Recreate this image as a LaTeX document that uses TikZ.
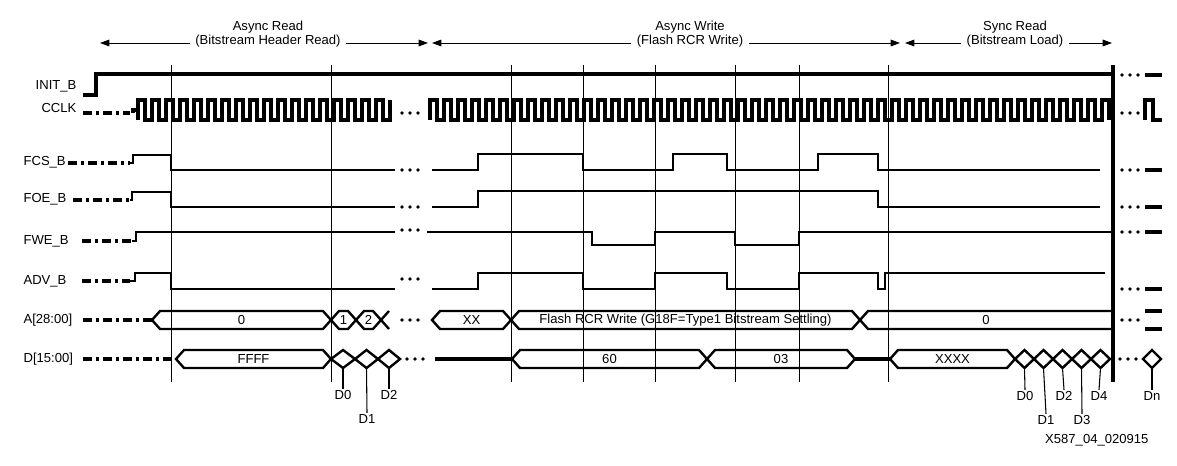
\documentclass[tikz,border=0pt]{standalone}
\usepackage{fontspec}
\setmainfont{Liberation Sans}
\usetikzlibrary{arrows.meta}
\newcommand\hexbus[5]{% name x1 x2 y text
  \draw[bus] (#2,#4) -- ({#2+8},{#4-9}) -- ({#3-8},{#4-9}) -- (#3,#4) -- ({#3-8},{#4+9}) -- ({#2+8},{#4+9}) -- cycle;
  \node[lab] (#1) at ({(#2+#3)/2},#4) {#5};}
\newcommand\diam[4]{% name x1 x2 y
  \draw[bus] (#2,#4) -- ({(#2+#3)/2},{#4-9}) -- (#3,#4) -- ({(#2+#3)/2},{#4+9}) -- cycle;
  \coordinate (#1) at ({(#2+#3)/2},{#4+9});}
\newcommand\tdots[2]{\foreach \k in {0,1,2}{\fill ({#1+8*\k},#2) circle (1.9);}}
\begin{document}
\begin{tikzpicture}[x=0.75pt,y=-0.75pt,
  lab/.style={font=\fontsize{9.8}{11}\selectfont,inner sep=1pt},
  sig/.style={line width=2.7pt,line join=miter},
  sigthin/.style={line width=2.1pt,line join=miter},
  bus/.style={line width=1.8pt,line join=miter},
  lead/.style={line width=2.7pt,dash pattern=on 7pt off 3pt on 2pt off 3pt},
  grid/.style={line width=0.6pt},
  hdr/.style={line width=0.7pt,{Triangle[length=7pt,width=5pt]}-{Triangle[length=7pt,width=5pt]}}]
\useasboundingbox (0,0) rectangle (1177,466);
% header
\draw[hdr] (100,43) -- (428,43);
\draw[hdr] (432,43) -- (900,43);
\draw[hdr] (905,43) -- (1112,43);
\node[lab,fill=white,align=center,inner xsep=4pt] (h1) at (268,34) {Async Read\\(Bitstream Header Read)};
\node[lab,fill=white,align=center,inner xsep=4pt] (h2) at (690,34) {Async Write\\(Flash RCR Write)};
\node[lab,fill=white,align=center,inner xsep=4pt] (h3) at (1015,34) {Sync Read\\(Bitstream Load)};
% grid lines
\foreach \x in {171,331,511,583,655,735,799,888}{\draw[grid] (\x,65) -- (\x,382);}
\draw[line width=3pt] (1113,65) -- (1113,382);
% labels
\node[lab,anchor=east] (lInit) at (78,86) {INIT\_B};
\node[lab,anchor=east] (lClk) at (78,108) {CCLK};
\node[lab,anchor=west] (lFcs) at (22,162) {FCS\_B};
\node[lab,anchor=west] (lFoe) at (22,199) {FOE\_B};
\node[lab,anchor=west] (lFwe) at (22,241) {FWE\_B};
\node[lab,anchor=west] (lAdv) at (22,281) {ADV\_B};
\node[lab,anchor=west] (lA) at (22,320) {A[28:00]};
\node[lab,anchor=west] (lD) at (22,359) {D[15:00]};
% INIT_B
\draw[sig] (83,95) -- (96,95) -- (96,74) -- (1112,74);
\tdots{1122}{75}\draw[sig] (1145,75) -- (1162,75);
% CCLK
\draw[lead] (83,113) -- (130,113);
\draw[sig] (133,113) -- (133,110) -- (138,110) -- (138,120)
  \foreach \i in {0,...,17}{ -- ({138+14*\i},120) -- ({138+14*\i},100) -- ({145+14*\i},100) -- ({145+14*\i},120)} -- (390,120) -- (390,100);
\tdots{402}{113}
\draw[sig] (430,120) -- (430,100)
  \foreach \i in {0,...,47}{ -- ({437+14*\i},100) -- ({437+14*\i},120) -- ({444+14*\i},120) -- ({444+14*\i},100)} -- (1109,100) -- (1109,120);
\tdots{1122}{113}
\draw[sig] (1145,120) -- (1145,100) -- (1153,100) -- (1153,120) -- (1162,120);
% FCS_B
\draw[lead] (68,163) -- (130,163);
\draw[sigthin] (130,163) -- (133,163) -- (133,155) -- (171,155) -- (171,170) -- (395,170);
\tdots{402}{170}
\draw[sigthin] (432,170) -- (478,170) -- (478,154) -- (583,154) -- (583,170) -- (673,170) -- (673,154) -- (727,154) -- (727,170) -- (818,170) -- (818,154) -- (878,154) -- (878,170) -- (1100,170);
\tdots{1122}{170}\draw[sig] (1145,170) -- (1162,170);
% FOE_B
\draw[lead] (73,200) -- (130,200);
\draw[sigthin] (130,200) -- (132,200) -- (132,192) -- (171,192) -- (171,207) -- (395,207);
\tdots{402}{207}
\draw[sigthin] (432,207) -- (478,207) -- (478,191) -- (878,191) -- (878,207) -- (1100,207);
\tdots{1122}{207}\draw[sig] (1145,207) -- (1162,207);
% FWE_B
\draw[lead] (82,241) -- (132,241);
\draw[sigthin] (132,241) -- (136,241) -- (136,232) -- (395,232);
\tdots{402}{230}
\draw[sigthin] (427,232) -- (592,232) -- (592,245) -- (655,245) -- (655,232) -- (735,232) -- (735,245) -- (799,245) -- (799,232) -- (1112,232);
\tdots{1122}{232}\draw[sig] (1145,232) -- (1162,232);
% ADV_B
\draw[lead] (82,281) -- (130,281);
\draw[sigthin] (130,281) -- (135,281) -- (135,273) -- (171,273) -- (171,289) -- (395,289);
\tdots{402}{279}
\draw[sigthin] (432,289) -- (478,289) -- (478,273) -- (583,273) -- (583,289) -- (655,289) -- (655,273) -- (727,273) -- (727,289) -- (799,289) -- (799,273) -- (878,273) -- (878,289) -- (885,289) -- (885,273) -- (1105,273);
\tdots{1122}{289}\draw[sig] (1145,289) -- (1162,289);
% A bus
\draw[lead] (83,320) -- (152,320);
\hexbus{a0}{152}{331}{320}{0}
\hexbus{a1}{331}{356}{320}{1}
\hexbus{a2}{356}{381}{320}{2}
\draw[bus] (381,320) -- (389,311) (381,320) -- (389,329);
\tdots{402}{320}
\hexbus{axx}{432}{511}{320}{XX}
\hexbus{arcr}{511}{860}{320}{Flash RCR Write (G18F=Type1 Bitstream Settling)}
\draw[bus] (1112,311) -- (868,311) -- (860,320) -- (868,329) -- (1112,329);
\node[lab] (alast) at (986,320) {0};
\tdots{1122}{320}
\draw[sig] (1145,311) -- (1162,311) (1145,329) -- (1162,329);
% D bus
\draw[lead] (83,359) -- (176,359);
\hexbus{dff}{176}{331}{359}{FFFF}
\diam{dl0}{331}{355}{359}
\diam{dl1}{355}{378}{359}
\diam{dl2}{378}{400}{359}
\tdots{407}{359}
\draw[sig] (435,359) -- (512,359);
\hexbus{d60}{512}{707}{359}{60}
\hexbus{d03}{707}{855}{359}{03}
\draw[sig] (855,359) -- (890,359);
\hexbus{dxx}{890}{1015}{359}{XXXX}
\diam{dr0}{1015}{1034}{359}
\diam{dr1}{1034}{1053}{359}
\diam{dr2}{1053}{1072}{359}
\diam{dr3}{1072}{1091}{359}
\diam{dr4}{1091}{1110}{359}
\tdots{1120}{359}
\diam{drn}{1143}{1161}{359}
% tick labels
\node[lab] (tl0) at (343,395) {D0};
\node[lab] (tl1) at (367,419) {D1};
\node[lab] (tl2) at (389,395) {D2};
\node[lab] (tr0) at (1025,396) {D0};
\node[lab] (tr1) at (1046,420) {D1};
\node[lab] (tr2) at (1064,396) {D2};
\node[lab] (tr3) at (1082,420) {D3};
\node[lab] (tr4) at (1099,396) {D4};
\node[lab] (trn) at (1152,396) {Dn};
\foreach \d/\t in {dl0/tl0,dl1/tl1,dl2/tl2,dr0/tr0,dr1/tr1,dr2/tr2,dr3/tr3,dr4/tr4,drn/trn}{\draw[grid,line width=0.8pt] (\d) -- (\t.north);}
\node[lab,anchor=east] (fig) at (1150,440) {X587\_04\_020915};
\end{tikzpicture}
\end{document}
